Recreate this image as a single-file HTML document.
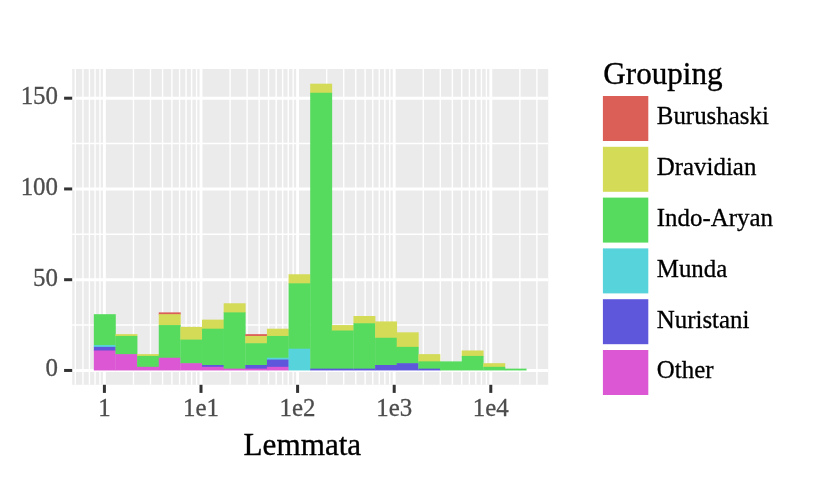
<!DOCTYPE html>
<html><head><meta charset="utf-8"><title>Lemmata</title>
<style>
html,body{margin:0;padding:0;background:#fff;}
body{width:829px;height:483px;overflow:hidden;}
svg{display:block;font-family:"Liberation Serif",serif;}
</style></head><body>
<svg width="829" height="483" viewBox="0 0 829 483">
<rect width="829" height="483" fill="#fff"/>
<rect x="72.2" y="69.0" width="476.00" height="315.80" fill="#ebebeb"/>
<line x1="75.32" x2="75.32" y1="69.0" y2="384.8" stroke="#fff" stroke-width="1.4"/>
<line x1="82.97" x2="82.97" y1="69.0" y2="384.8" stroke="#fff" stroke-width="1.4"/>
<line x1="89.44" x2="89.44" y1="69.0" y2="384.8" stroke="#fff" stroke-width="1.4"/>
<line x1="95.04" x2="95.04" y1="69.0" y2="384.8" stroke="#fff" stroke-width="1.4"/>
<line x1="99.98" x2="99.98" y1="69.0" y2="384.8" stroke="#fff" stroke-width="1.4"/>
<line x1="133.48" x2="133.48" y1="69.0" y2="384.8" stroke="#fff" stroke-width="1.4"/>
<line x1="150.49" x2="150.49" y1="69.0" y2="384.8" stroke="#fff" stroke-width="1.4"/>
<line x1="162.56" x2="162.56" y1="69.0" y2="384.8" stroke="#fff" stroke-width="1.4"/>
<line x1="171.92" x2="171.92" y1="69.0" y2="384.8" stroke="#fff" stroke-width="1.4"/>
<line x1="179.57" x2="179.57" y1="69.0" y2="384.8" stroke="#fff" stroke-width="1.4"/>
<line x1="186.04" x2="186.04" y1="69.0" y2="384.8" stroke="#fff" stroke-width="1.4"/>
<line x1="191.64" x2="191.64" y1="69.0" y2="384.8" stroke="#fff" stroke-width="1.4"/>
<line x1="196.58" x2="196.58" y1="69.0" y2="384.8" stroke="#fff" stroke-width="1.4"/>
<line x1="230.08" x2="230.08" y1="69.0" y2="384.8" stroke="#fff" stroke-width="1.4"/>
<line x1="247.09" x2="247.09" y1="69.0" y2="384.8" stroke="#fff" stroke-width="1.4"/>
<line x1="259.16" x2="259.16" y1="69.0" y2="384.8" stroke="#fff" stroke-width="1.4"/>
<line x1="268.52" x2="268.52" y1="69.0" y2="384.8" stroke="#fff" stroke-width="1.4"/>
<line x1="276.17" x2="276.17" y1="69.0" y2="384.8" stroke="#fff" stroke-width="1.4"/>
<line x1="282.64" x2="282.64" y1="69.0" y2="384.8" stroke="#fff" stroke-width="1.4"/>
<line x1="288.24" x2="288.24" y1="69.0" y2="384.8" stroke="#fff" stroke-width="1.4"/>
<line x1="293.18" x2="293.18" y1="69.0" y2="384.8" stroke="#fff" stroke-width="1.4"/>
<line x1="326.68" x2="326.68" y1="69.0" y2="384.8" stroke="#fff" stroke-width="1.4"/>
<line x1="343.69" x2="343.69" y1="69.0" y2="384.8" stroke="#fff" stroke-width="1.4"/>
<line x1="355.76" x2="355.76" y1="69.0" y2="384.8" stroke="#fff" stroke-width="1.4"/>
<line x1="365.12" x2="365.12" y1="69.0" y2="384.8" stroke="#fff" stroke-width="1.4"/>
<line x1="372.77" x2="372.77" y1="69.0" y2="384.8" stroke="#fff" stroke-width="1.4"/>
<line x1="379.24" x2="379.24" y1="69.0" y2="384.8" stroke="#fff" stroke-width="1.4"/>
<line x1="384.84" x2="384.84" y1="69.0" y2="384.8" stroke="#fff" stroke-width="1.4"/>
<line x1="389.78" x2="389.78" y1="69.0" y2="384.8" stroke="#fff" stroke-width="1.4"/>
<line x1="423.28" x2="423.28" y1="69.0" y2="384.8" stroke="#fff" stroke-width="1.4"/>
<line x1="440.29" x2="440.29" y1="69.0" y2="384.8" stroke="#fff" stroke-width="1.4"/>
<line x1="452.36" x2="452.36" y1="69.0" y2="384.8" stroke="#fff" stroke-width="1.4"/>
<line x1="461.72" x2="461.72" y1="69.0" y2="384.8" stroke="#fff" stroke-width="1.4"/>
<line x1="469.37" x2="469.37" y1="69.0" y2="384.8" stroke="#fff" stroke-width="1.4"/>
<line x1="475.84" x2="475.84" y1="69.0" y2="384.8" stroke="#fff" stroke-width="1.4"/>
<line x1="481.44" x2="481.44" y1="69.0" y2="384.8" stroke="#fff" stroke-width="1.4"/>
<line x1="486.38" x2="486.38" y1="69.0" y2="384.8" stroke="#fff" stroke-width="1.4"/>
<line x1="519.88" x2="519.88" y1="69.0" y2="384.8" stroke="#fff" stroke-width="1.4"/>
<line x1="536.89" x2="536.89" y1="69.0" y2="384.8" stroke="#fff" stroke-width="1.4"/>
<line x1="72.2" x2="548.2" y1="325.07" y2="325.07" stroke="#fff" stroke-width="1.4"/>
<line x1="72.2" x2="548.2" y1="234.32" y2="234.32" stroke="#fff" stroke-width="1.4"/>
<line x1="72.2" x2="548.2" y1="143.57" y2="143.57" stroke="#fff" stroke-width="1.4"/>
<line x1="104.40" x2="104.40" y1="69.0" y2="384.8" stroke="#fff" stroke-width="2.9"/>
<line x1="201.00" x2="201.00" y1="69.0" y2="384.8" stroke="#fff" stroke-width="2.9"/>
<line x1="297.60" x2="297.60" y1="69.0" y2="384.8" stroke="#fff" stroke-width="2.9"/>
<line x1="394.20" x2="394.20" y1="69.0" y2="384.8" stroke="#fff" stroke-width="2.9"/>
<line x1="490.80" x2="490.80" y1="69.0" y2="384.8" stroke="#fff" stroke-width="2.9"/>
<line x1="72.2" x2="548.2" y1="370.45" y2="370.45" stroke="#fff" stroke-width="2.9"/>
<line x1="72.2" x2="548.2" y1="279.70" y2="279.70" stroke="#fff" stroke-width="2.9"/>
<line x1="72.2" x2="548.2" y1="188.95" y2="188.95" stroke="#fff" stroke-width="2.9"/>
<line x1="72.2" x2="548.2" y1="98.20" y2="98.20" stroke="#fff" stroke-width="2.9"/>
<rect x="93.84" y="314.19" width="21.94" height="31.45" fill="#57db5f"/>
<rect x="93.84" y="345.04" width="21.94" height="2.42" fill="#57d3db"/>
<rect x="93.84" y="346.86" width="21.94" height="4.23" fill="#5f57db"/>
<rect x="93.84" y="350.49" width="21.94" height="19.96" fill="#db57d3"/>
<rect x="115.48" y="334.15" width="21.94" height="2.42" fill="#d3db57"/>
<rect x="115.48" y="335.96" width="21.94" height="18.75" fill="#57db5f"/>
<rect x="115.48" y="354.12" width="21.94" height="16.33" fill="#db57d3"/>
<rect x="137.11" y="354.12" width="21.94" height="2.42" fill="#d3db57"/>
<rect x="137.11" y="355.93" width="21.94" height="11.49" fill="#57db5f"/>
<rect x="137.11" y="366.82" width="21.94" height="3.63" fill="#db57d3"/>
<rect x="158.75" y="312.37" width="21.94" height="2.42" fill="#db5f57"/>
<rect x="158.75" y="314.19" width="21.94" height="11.49" fill="#d3db57"/>
<rect x="158.75" y="325.07" width="21.94" height="33.27" fill="#57db5f"/>
<rect x="158.75" y="357.75" width="21.94" height="12.70" fill="#db57d3"/>
<rect x="180.38" y="326.89" width="21.94" height="13.31" fill="#d3db57"/>
<rect x="180.38" y="339.59" width="21.94" height="24.20" fill="#57db5f"/>
<rect x="180.38" y="363.19" width="21.94" height="7.26" fill="#db57d3"/>
<rect x="202.02" y="319.63" width="21.94" height="9.68" fill="#d3db57"/>
<rect x="202.02" y="328.70" width="21.94" height="36.90" fill="#57db5f"/>
<rect x="202.02" y="365.00" width="21.94" height="2.42" fill="#5f57db"/>
<rect x="202.02" y="366.82" width="21.94" height="3.63" fill="#db57d3"/>
<rect x="223.66" y="303.29" width="21.94" height="9.68" fill="#d3db57"/>
<rect x="223.66" y="312.37" width="21.94" height="56.87" fill="#57db5f"/>
<rect x="223.66" y="368.63" width="21.94" height="1.81" fill="#db57d3"/>
<rect x="245.29" y="334.15" width="21.94" height="2.42" fill="#db5f57"/>
<rect x="245.29" y="335.96" width="21.94" height="7.86" fill="#d3db57"/>
<rect x="245.29" y="343.22" width="21.94" height="22.38" fill="#57db5f"/>
<rect x="245.29" y="365.00" width="21.94" height="4.23" fill="#5f57db"/>
<rect x="245.29" y="368.63" width="21.94" height="1.81" fill="#db57d3"/>
<rect x="266.93" y="328.70" width="21.94" height="7.86" fill="#d3db57"/>
<rect x="266.93" y="335.96" width="21.94" height="22.38" fill="#57db5f"/>
<rect x="266.93" y="357.75" width="21.94" height="2.42" fill="#57d3db"/>
<rect x="266.93" y="359.56" width="21.94" height="7.86" fill="#5f57db"/>
<rect x="266.93" y="366.82" width="21.94" height="3.63" fill="#db57d3"/>
<rect x="288.56" y="274.25" width="21.94" height="9.68" fill="#d3db57"/>
<rect x="288.56" y="283.33" width="21.94" height="65.94" fill="#57db5f"/>
<rect x="288.56" y="348.67" width="21.94" height="21.78" fill="#57d3db"/>
<rect x="310.20" y="83.68" width="21.94" height="9.67" fill="#d3db57"/>
<rect x="310.20" y="92.75" width="21.94" height="276.48" fill="#57db5f"/>
<rect x="310.20" y="368.63" width="21.94" height="1.81" fill="#5f57db"/>
<rect x="331.84" y="325.07" width="21.94" height="6.05" fill="#d3db57"/>
<rect x="331.84" y="330.52" width="21.94" height="38.72" fill="#57db5f"/>
<rect x="331.84" y="368.63" width="21.94" height="1.81" fill="#5f57db"/>
<rect x="353.47" y="316.00" width="21.94" height="7.86" fill="#d3db57"/>
<rect x="353.47" y="323.26" width="21.94" height="45.98" fill="#57db5f"/>
<rect x="353.47" y="368.63" width="21.94" height="1.81" fill="#5f57db"/>
<rect x="375.11" y="321.44" width="21.94" height="16.94" fill="#d3db57"/>
<rect x="375.11" y="337.78" width="21.94" height="27.83" fill="#57db5f"/>
<rect x="375.11" y="365.00" width="21.94" height="5.44" fill="#5f57db"/>
<rect x="396.74" y="332.33" width="21.94" height="15.12" fill="#d3db57"/>
<rect x="396.74" y="346.86" width="21.94" height="16.94" fill="#57db5f"/>
<rect x="396.74" y="363.19" width="21.94" height="7.26" fill="#5f57db"/>
<rect x="418.38" y="354.12" width="21.94" height="7.86" fill="#d3db57"/>
<rect x="418.38" y="361.38" width="21.94" height="7.86" fill="#57db5f"/>
<rect x="418.38" y="368.63" width="21.94" height="1.81" fill="#5f57db"/>
<rect x="440.02" y="361.38" width="21.94" height="9.07" fill="#57db5f"/>
<rect x="461.65" y="350.49" width="21.94" height="6.05" fill="#d3db57"/>
<rect x="461.65" y="355.93" width="21.94" height="14.52" fill="#57db5f"/>
<rect x="483.29" y="363.19" width="21.94" height="4.23" fill="#d3db57"/>
<rect x="483.29" y="366.82" width="21.94" height="3.63" fill="#57db5f"/>
<rect x="504.92" y="368.63" width="21.64" height="1.81" fill="#57db5f"/>
<line x1="104.40" x2="104.40" y1="384.8" y2="392.90000000000003" stroke="#333" stroke-width="3"/>
<line x1="201.00" x2="201.00" y1="384.8" y2="392.90000000000003" stroke="#333" stroke-width="3"/>
<line x1="297.60" x2="297.60" y1="384.8" y2="392.90000000000003" stroke="#333" stroke-width="3"/>
<line x1="394.20" x2="394.20" y1="384.8" y2="392.90000000000003" stroke="#333" stroke-width="3"/>
<line x1="490.80" x2="490.80" y1="384.8" y2="392.90000000000003" stroke="#333" stroke-width="3"/>
<line x1="64.10000000000001" x2="72.2" y1="370.45" y2="370.45" stroke="#333" stroke-width="3"/>
<line x1="64.10000000000001" x2="72.2" y1="279.70" y2="279.70" stroke="#333" stroke-width="3"/>
<line x1="64.10000000000001" x2="72.2" y1="188.95" y2="188.95" stroke="#333" stroke-width="3"/>
<line x1="64.10000000000001" x2="72.2" y1="98.20" y2="98.20" stroke="#333" stroke-width="3"/>
<g font-size="24.9" fill="#4d4d4d" stroke="#4d4d4d" stroke-width="0.3">
<text x="58.0" y="376.25" text-anchor="end">0</text>
<text x="58.0" y="285.50" text-anchor="end">50</text>
<text x="58.0" y="194.75" text-anchor="end">100</text>
<text x="58.0" y="104.00" text-anchor="end">150</text>
<text x="104.40" y="416.4" text-anchor="middle">1</text>
<text x="201.00" y="416.4" text-anchor="middle">1e1</text>
<text x="297.60" y="416.4" text-anchor="middle">1e2</text>
<text x="394.20" y="416.4" text-anchor="middle">1e3</text>
<text x="490.80" y="416.4" text-anchor="middle">1e4</text>
</g>
<text x="302.4" y="455.2" font-size="31.15" text-anchor="middle" fill="#000" stroke="#000" stroke-width="0.35">Lemmata</text>
<text x="603.3" y="83.7" font-size="31.15" fill="#000" stroke="#000" stroke-width="0.35">Grouping</text>
<g font-size="24.9" fill="#000" stroke="#000" stroke-width="0.3">
<rect x="602.9" y="96.00" width="45.4" height="45.0" fill="#db5f57" stroke="none"/>
<text x="656.8" y="124.30">Burushaski</text>
<rect x="602.9" y="146.80" width="45.4" height="45.0" fill="#d3db57" stroke="none"/>
<text x="656.8" y="175.10">Dravidian</text>
<rect x="602.9" y="197.60" width="45.4" height="45.0" fill="#57db5f" stroke="none"/>
<text x="656.8" y="225.90">Indo-Aryan</text>
<rect x="602.9" y="248.40" width="45.4" height="45.0" fill="#57d3db" stroke="none"/>
<text x="656.8" y="276.70">Munda</text>
<rect x="602.9" y="299.20" width="45.4" height="45.0" fill="#5f57db" stroke="none"/>
<text x="656.8" y="327.50">Nuristani</text>
<rect x="602.9" y="350.00" width="45.4" height="45.0" fill="#db57d3" stroke="none"/>
<text x="656.8" y="378.30">Other</text>
</g>
</svg>
</body></html>
